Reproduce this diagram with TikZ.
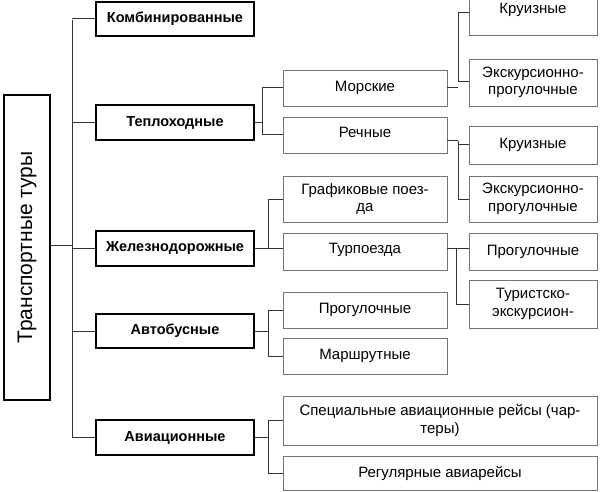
\documentclass[tikz,border=0pt]{standalone}
\usepackage{fontspec}
\setmainfont{Liberation Sans}
\begin{document}
\begin{tikzpicture}[x=1pt,y=-1pt,
  lvone/.style={draw=black,line width=1.6pt,font=\fontsize{14.5}{16}\selectfont\bfseries,inner sep=0pt},
  lvtwo/.style={draw=black!55,line width=0.7pt,font=\fontsize{15}{17.5}\selectfont,align=center,inner sep=0pt},
  rootbox/.style={draw=black,line width=2.4pt,inner sep=0pt},
  conn/.style={draw=black!80,line width=1pt}]
\useasboundingbox (0,0) rectangle (600,492);
\newcommand{\bx}[7]{\node[#7,minimum width={#4-#2},minimum height={#5-#3}] (#1) at ({(#2+#4)/2},{(#3+#5)/2}) {#6};}
\begin{scope}
\clip (0,0) rectangle (600,492);
\bx{root}{4}{95}{50}{400}{}{rootbox}
\node[rotate=90,font=\fontsize{21}{23}\selectfont] at (root.center) {Транспортные туры};
\bx{a}{96}{2}{254}{36}{Комбинированные}{lvone}
\bx{b}{96}{105}{254}{140}{Теплоходные}{lvone}
\bx{c}{96}{231}{254}{266}{Железнодорожные}{lvone}
\bx{d}{96}{314}{254}{348}{Автобусные}{lvone}
\bx{e}{96}{420}{254}{455}{Авиационные}{lvone}
\bx{b1}{283}{70}{447}{106}{Морские}{lvtwo}
\bx{b2}{283}{117}{447}{153}{\raisebox{6pt}{Речные}}{lvtwo}
\bx{c1}{283}{176}{447}{222}{Графиковые поез-\\да}{lvtwo}
\bx{c2}{283}{233}{447}{270}{\raisebox{6pt}{Турпоезда}}{lvtwo}
\bx{d1}{283}{292}{447}{328}{Прогулочные}{lvtwo}
\bx{d2}{283}{338}{447}{374}{Маршрутные}{lvtwo}
\bx{e1}{283}{396}{597}{445}{Специальные авиационные рейсы (чар-\\теры)}{lvtwo}
\bx{e2}{283}{456}{597}{490}{Регулярные авиарейсы}{lvtwo}
\bx{m1}{469}{-14}{597}{35}{\raisebox{4pt}{Круизные}}{lvtwo}
\bx{m2}{469}{59}{597}{106}{Экскурсионно-\\прогулочные}{lvtwo}
\bx{r1}{469}{126}{597}{164}{Круизные}{lvtwo}
\bx{r2}{469}{176}{597}{222}{Экскурсионно-\\прогулочные}{lvtwo}
\bx{t1}{469}{233}{597}{270}{Прогулочные}{lvtwo}
\bx{t2}{469}{280}{597}{328}{Туристско-\\экскурсион-}{lvtwo}
\end{scope}
\coordinate (trk) at (72,245);
\draw[conn] (root.east|-trk) -- (trk);
\draw[conn] (72,20) -- (72,437);
\foreach \n in {a,b,c,d,e} \draw[conn] (72,0|-\n.west) -- (\n.west);
\draw[conn] (b.east) -- (262,0|-b.east);
\draw[conn] (262,88) -- (262,135);
\draw[conn] (262,88) -- (b1.west|-0,88);
\draw[conn] (262,135) -- (b2.west|-0,135);
\draw[conn] (c.east) -- (268,0|-c.east);
\draw[conn] (268,199) -- (268,248);
\draw[conn] (268,199) -- (c1.west|-0,199);
\draw[conn] (268,248) -- (c2.west|-0,248);
\draw[conn] (d.east) -- (268,0|-d.east);
\draw[conn] (268,310) -- (268,356);
\draw[conn] (268,310) -- (d1.west|-0,310);
\draw[conn] (268,356) -- (d2.west|-0,356);
\draw[conn] (e.east) -- (268,0|-e.east);
\draw[conn] (268,420) -- (268,473);
\draw[conn] (268,420) -- (e1.west|-0,420);
\draw[conn] (268,473) -- (e2.west|-0,473);
\draw[conn] (b1.east) -- (458,0|-b1.east);
\draw[conn] (458,13) -- (458,82);
\draw[conn] (458,13) -- (m1.west|-0,13);
\draw[conn] (458,82) -- (m2.west|-0,82);
\draw[conn] (447,141) -- (458,141);
\draw[conn] (458,141) -- (458,199);
\draw[conn] (458,145) -- (r1.west|-0,145);
\draw[conn] (458,199) -- (r2.west|-0,199);
\draw[conn] (447,248) -- (469,248);
\draw[conn] (456,248) -- (456,304);
\draw[conn] (456,304) -- (t2.west|-0,304);
\end{tikzpicture}
\end{document}
